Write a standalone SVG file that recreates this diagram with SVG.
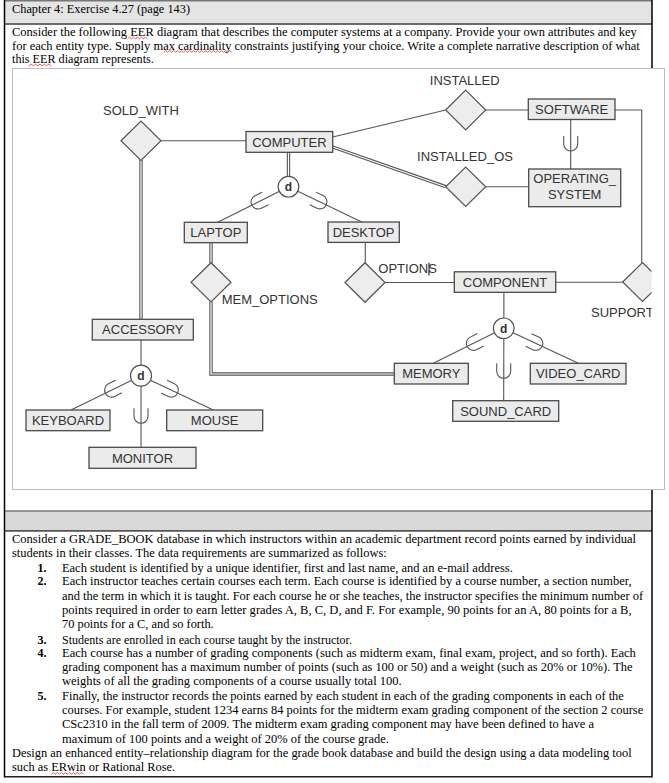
<svg xmlns="http://www.w3.org/2000/svg" xmlns:xlink="http://www.w3.org/1999/xlink" width="669" height="783" viewBox="0 0 669 783">
<defs>
<style>
.box{fill:#ebebeb;stroke:#4a4a4a;stroke-width:1.3}
.dia{fill:#ededed;stroke:#555;stroke-width:1.2}
.ln{stroke:#555;stroke-width:1.1;fill:none}
.dbo{stroke:#555;stroke-width:3.4;fill:none}
.dbi{stroke:#fff;stroke-width:1.2;fill:none}
.circ{fill:#fff;stroke:#555;stroke-width:1.2}
.lbl{font-family:"Liberation Sans",Arial,sans-serif;font-size:13px;fill:#333}
.mid{text-anchor:middle}
.dd{font-family:"Liberation Sans",Arial,sans-serif;font-size:12px;font-weight:bold;fill:#333;text-anchor:middle}
.body{font-family:"Liberation Serif","Times New Roman",serif;font-size:12px;fill:#000}
.num{font-weight:bold}
.sq{stroke:#e03030;stroke-width:0.8;fill:none}
</style>
<path id="sub" d="M-7,-8 V0 A7,7 0 0 0 7,0 V-8" class="ln"/>
<clipPath id="clipd"><rect x="12.5" y="68.5" width="639" height="421"/></clipPath>
</defs>
<rect x="0" y="0" width="669" height="783" fill="#fff"/>

<!-- page frame -->
<g id="frame">
<rect x="4.5" y="0" width="647.5" height="24" fill="#e4e4e4"/>
<line x1="4.5" y1="0.75" x2="652" y2="0.75" stroke="#777" stroke-width="1.5"/>
<line x1="4.5" y1="24" x2="652" y2="24" stroke="#6b6b6b" stroke-width="1.8"/>
<rect x="4.5" y="511" width="647.5" height="19.5" fill="#d9d9d9"/>
<line x1="4.5" y1="511" x2="652" y2="511" stroke="#777" stroke-width="1.5"/>
<line x1="4.5" y1="530.8" x2="652" y2="530.8" stroke="#555" stroke-width="1.8"/>
<line x1="4.5" y1="0" x2="4.5" y2="777.5" stroke="#000" stroke-width="1.5"/>
<line x1="652" y1="0" x2="652" y2="777.5" stroke="#000" stroke-width="1.5"/>
<line x1="4.5" y1="776.7" x2="652" y2="776.7" stroke="#222" stroke-width="1.6"/>
</g>

<g id="header-text">
<text class="body" x="12" y="13" textLength="178" lengthAdjust="spacingAndGlyphs">Chapter 4: Exercise 4.27 (page 143)</text>
<text class="body" x="12" y="36" textLength="624.8" lengthAdjust="spacingAndGlyphs">Consider the following EER diagram that describes the computer systems at a company. Provide your own attributes and key</text>
<text class="body" x="12" y="49.5" textLength="627.7" lengthAdjust="spacingAndGlyphs">for each entity type. Supply max cardinality constraints justifying your choice. Write a complete narrative description of what</text>
<text class="body" x="12" y="63" textLength="141.8" lengthAdjust="spacingAndGlyphs">this EER diagram represents.</text>
<path class="sq" d="M127.5,38.8 l2,-1.6 l2,1.6 l2,-1.6 l2,1.6 l2,-1.6 l2,1.6 l2,-1.6 l2,1.6 l2,-1.6 l2,1.6"/>
<path class="sq" d="M163.7,52.3 l2,-1.6 l2,1.6 l2,-1.6 l2,1.6 l2,-1.6 l2,1.6 l2,-1.6 l2,1.6 l2,-1.6 l2,1.6 l2,-1.6 l2,1.6 l2,-1.6 l2,1.6 l2,-1.6 l2,1.6 l2,-1.6 l2,1.6 l2,-1.6 l2,1.6 l2,-1.6 l2,1.6 l2,-1.6 l2,1.6 l2,-1.6 l2,1.6 l2,-1.6 l2,1.6 l2,-1.6 l2,1.6 l2,-1.6 l2,1.6 l2,-1.6 l2,1.6"/>
<path class="sq" d="M29,65.8 l2.2,-1.6 l2.2,1.6 l2.2,-1.6 l2.2,1.6 l2.2,-1.6 l2.2,1.6 l2.2,-1.6 l2.2,1.6 l2.2,-1.6 l2.2,1.6"/>
</g>

<!-- diagram panel -->
<rect x="12.5" y="68.5" width="652" height="421" fill="#fff" stroke="#bdbdbd" stroke-width="1"/>

<g clip-path="url(#clipd)">
<g id="connectors">
<g class="ln">
<line x1="161" y1="140.7" x2="246" y2="140.7"/>
<line x1="332.7" y1="137" x2="445.7" y2="110"/>
<line x1="485.7" y1="110" x2="528.3" y2="110"/>
<polyline points="615,110 641.7,110 641.7,263"/>
<line x1="570.7" y1="119.5" x2="570.7" y2="169"/>
<line x1="485.7" y1="186.7" x2="528.7" y2="186.7"/>
<line x1="288.5" y1="186.7" x2="217.7" y2="222.3"/>
<line x1="288.5" y1="186.7" x2="361.7" y2="222"/>
<line x1="365.3" y1="242.4" x2="365.3" y2="262.7"/>
<line x1="385" y1="282.5" x2="454.3" y2="282.5"/>
<line x1="555.7" y1="282.3" x2="622.7" y2="282.3"/>
<line x1="503.9" y1="292.3" x2="503.7" y2="400.7"/>
<line x1="503.7" y1="328.3" x2="433.3" y2="363.3"/>
<line x1="503.7" y1="328.3" x2="578.3" y2="363.3"/>
<line x1="141" y1="340" x2="141" y2="447.3"/>
<line x1="141" y1="375.7" x2="71" y2="410"/>
<line x1="141" y1="375.7" x2="213.3" y2="410"/>
</g>
<g class="dbo">
<line x1="288.5" y1="152.3" x2="288.5" y2="177"/>
<line x1="141" y1="160" x2="141" y2="319.3"/>
<line x1="332.7" y1="147" x2="445.7" y2="186.7"/>
<line x1="211" y1="242.7" x2="211" y2="263"/>
<polyline points="211,301.7 211,374 394.3,374"/>
</g>
<g class="dbi">
<line x1="288.5" y1="152.3" x2="288.5" y2="177"/>
<line x1="141" y1="160" x2="141" y2="319.3"/>
<line x1="332.7" y1="147" x2="445.7" y2="186.7"/>
<line x1="211" y1="242.7" x2="211" y2="263"/>
<polyline points="211,301.7 211,374 394.3,374"/>
</g>
<g id="subsets">
<use xlink:href="#sub" href="#sub" transform="translate(258.1,202) rotate(63.3)"/>
<use xlink:href="#sub" href="#sub" transform="translate(320,201.9) rotate(-64.3)"/>
<use xlink:href="#sub" href="#sub" transform="translate(111.6,390.1) rotate(63.9)"/>
<use xlink:href="#sub" href="#sub" transform="translate(171.4,390.1) rotate(-64.6)"/>
<use xlink:href="#sub" href="#sub" transform="translate(141,416.3)"/>
<use xlink:href="#sub" href="#sub" transform="translate(473.4,343.4) rotate(63.6)"/>
<use xlink:href="#sub" href="#sub" transform="translate(535.8,343.4) rotate(-64.9)"/>
<use xlink:href="#sub" href="#sub" transform="translate(503.7,371.3)"/>
<use xlink:href="#sub" href="#sub" transform="translate(570.7,144)"/>
</g>
</g>

<g id="sold_with">
<polygon class="dia" points="121,140.7 141,121 161,140.7 141,160.4"/>
<text class="lbl mid" x="141" y="114.7">SOLD_WITH</text>
</g>
<g id="installed">
<polygon class="dia" points="445.7,110 465.7,90 485.7,110 465.7,130"/>
<text class="lbl mid" x="464.7" y="84.7">INSTALLED</text>
</g>
<g id="installed_os">
<polygon class="dia" points="445.7,186.7 465.7,167 485.7,186.7 465.7,206.4"/>
<text class="lbl mid" x="465" y="161.4">INSTALLED_OS</text>
</g>
<g id="mem_options">
<polygon class="dia" points="191,282.3 211,262.7 231,282.3 211,302"/>
<text class="lbl" x="221.7" y="304">MEM_OPTIONS</text>
</g>
<g id="options">
<polygon class="dia" points="345,282.5 365,262.7 385,282.5 365,302.3"/>
<text class="lbl" x="378.3" y="273">OPTIONS</text>
<line x1="429" y1="262.7" x2="429" y2="275.5" stroke="#000" stroke-width="1"/>
</g>
<g id="supports">
<polygon class="dia" points="622.7,282 642.5,262.5 662.3,282 642.5,301.5"/>
<text class="lbl" x="591" y="316.7">SUPPORT</text>
</g>

<g id="computer">
<rect class="box" x="246" y="131.5" width="86.7" height="20.8"/>
<text class="lbl mid" x="289.4" y="146.5">COMPUTER</text>
</g>
<g id="d_computer">
<circle class="circ" cx="288.5" cy="186.7" r="10.3"/>
<text class="dd" x="288.5" y="191">d</text>
</g>
<g id="laptop">
<rect class="box" x="184.3" y="222.3" width="63" height="20.4"/>
<text class="lbl mid" x="215.8" y="237">LAPTOP</text>
</g>
<g id="desktop">
<rect class="box" x="328" y="222" width="71.3" height="20.4"/>
<text class="lbl mid" x="363.6" y="236.7">DESKTOP</text>
</g>
<g id="software">
<rect class="box" x="528.3" y="99" width="86.7" height="20.5"/>
<text class="lbl mid" x="571.7" y="113.8">SOFTWARE</text>
</g>
<g id="operating_system">
<rect class="box" x="528.7" y="169" width="92" height="37.7"/>
<text class="lbl mid" x="574.7" y="183">OPERATING_</text>
<text class="lbl mid" x="574.7" y="199">SYSTEM</text>
</g>
<g id="component">
<rect class="box" x="454.3" y="271.8" width="101.4" height="20.5"/>
<text class="lbl mid" x="505" y="286.7">COMPONENT</text>
</g>
<g id="d_component">
<circle class="circ" cx="503.7" cy="328.3" r="10.3"/>
<text class="dd" x="503.7" y="332.6">d</text>
</g>
<g id="memory">
<rect class="box" x="394.3" y="363.3" width="74" height="20.7"/>
<text class="lbl mid" x="431.3" y="378.3">MEMORY</text>
</g>
<g id="video_card">
<rect class="box" x="530.3" y="363.3" width="95.7" height="20.7"/>
<text class="lbl mid" x="578.2" y="378.3">VIDEO_CARD</text>
</g>
<g id="sound_card">
<rect class="box" x="452.7" y="400.7" width="106" height="20.6"/>
<text class="lbl mid" x="505.7" y="415.7">SOUND_CARD</text>
</g>
<g id="accessory">
<rect class="box" x="92.3" y="319.3" width="101" height="20.7"/>
<text class="lbl mid" x="142.8" y="334.3">ACCESSORY</text>
</g>
<g id="d_accessory">
<circle class="circ" cx="141" cy="375.7" r="10.5"/>
<text class="dd" x="141" y="380">d</text>
</g>
<g id="keyboard">
<rect class="box" x="26" y="410" width="84" height="20.7"/>
<text class="lbl mid" x="68" y="425">KEYBOARD</text>
</g>
<g id="mouse">
<rect class="box" x="166.7" y="410" width="96" height="20.7"/>
<text class="lbl mid" x="214.7" y="425">MOUSE</text>
</g>
<g id="monitor">
<rect class="box" x="89" y="447.3" width="107" height="21"/>
<text class="lbl mid" x="142.5" y="462.5">MONITOR</text>
</g>
</g>

<g id="question-text">
<text class="body" x="12" y="543" textLength="623.9" lengthAdjust="spacingAndGlyphs">Consider a GRADE_BOOK database in which instructors within an academic department record points earned by individual</text>
<text class="body" x="12" y="557" textLength="374.8" lengthAdjust="spacingAndGlyphs">students in their classes. The data requirements are summarized as follows:</text>
<text class="body num" x="37.6" y="571.5">1.</text>
<text class="body" x="62" y="571.5" textLength="450.8" lengthAdjust="spacingAndGlyphs">Each student is identified by a unique identifier, first and last name, and an e-mail address.</text>
<text class="body num" x="37.6" y="585">2.</text>
<text class="body" x="62" y="585" textLength="569.6" lengthAdjust="spacingAndGlyphs">Each instructor teaches certain courses each term. Each course is identified by a course number, a section number,</text>
<text class="body" x="62" y="600" textLength="581.2" lengthAdjust="spacingAndGlyphs">and the term in which it is taught. For each course he or she teaches, the instructor specifies the minimum number of</text>
<text class="body" x="62" y="614" textLength="569.6" lengthAdjust="spacingAndGlyphs">points required in order to earn letter grades A, B, C, D, and F. For example, 90 points for an A, 80 points for a B,</text>
<text class="body" x="62" y="627.5" textLength="151.7" lengthAdjust="spacingAndGlyphs">70 points for a C, and so forth.</text>
<text class="body num" x="37.6" y="643.5">3.</text>
<text class="body" x="62" y="643.5">Students are enrolled in each course taught by the instructor.</text>
<text class="body num" x="37.6" y="657">4.</text>
<text class="body" x="62" y="657" textLength="573.9" lengthAdjust="spacingAndGlyphs">Each course has a number of grading components (such as midterm exam, final exam, project, and so forth). Each</text>
<text class="body" x="62" y="671" textLength="570.5" lengthAdjust="spacingAndGlyphs">grading component has a maximum number of points (such as 100 or 50) and a weight (such as 20% or 10%). The</text>
<text class="body" x="62" y="685" textLength="339.7" lengthAdjust="spacingAndGlyphs">weights of all the grading components of a course usually total 100.</text>
<text class="body num" x="37.6" y="699.5">5.</text>
<text class="body" x="62" y="699.5" textLength="561.9" lengthAdjust="spacingAndGlyphs">Finally, the instructor records the points earned by each student in each of the grading components in each of the</text>
<text class="body" x="62" y="714" textLength="581.2" lengthAdjust="spacingAndGlyphs">courses. For example, student 1234 earns 84 points for the midterm exam grading component of the section 2 course</text>
<text class="body" x="62" y="728" textLength="532" lengthAdjust="spacingAndGlyphs">CSc2310 in the fall term of 2009. The midterm exam grading component may have been defined to have a</text>
<text class="body" x="62" y="742.5" textLength="326.9" lengthAdjust="spacingAndGlyphs">maximum of 100 points and a weight of 20% of the course grade.</text>
<text class="body" x="12" y="757" textLength="619.6" lengthAdjust="spacingAndGlyphs">Design an enhanced entity–relationship diagram for the grade book database and build the design using a data modeling tool</text>
<text class="body" x="12" y="771" textLength="163.2" lengthAdjust="spacingAndGlyphs">such as ERwin or Rational Rose.</text>
<path class="sq" d="M51.3,774.2 l2,-1.6 l2,1.6 l2,-1.6 l2,1.6 l2,-1.6 l2,1.6 l2,-1.6 l2,1.6 l2,-1.6 l2,1.6 l2,-1.6 l2,1.6 l2,-1.6 l2,1.6 l2,-1.6 l2,1.6"/>
</g>
</svg>
